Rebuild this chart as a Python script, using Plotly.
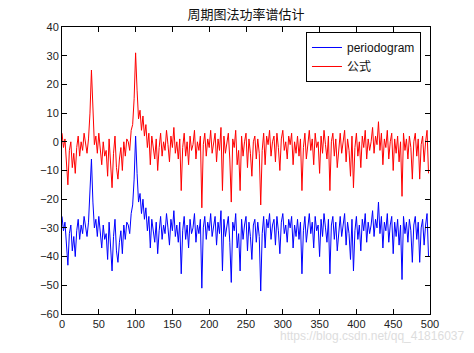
import plotly.graph_objects as go

x_vals = list(range(0, 500, 2))

formula_db = [
    3, -2, 1, -6, -15, -3, 0, -9, -4, -11,
    -2, 2, -5, 0, -3, 3, -1, -4, 1, 10,
    25, 8, -1, 2, -4, 3, -2, -8, 0, -5,
    -3, -12, 1, -7, -16, -4, 2, -9, -13, -6,
    -2, -10, 0, -5, 1, 0, -3, 4, 6, 15,
    31, 18, 8, 11, 4, 9, 2, 6, -2, 3,
    -8, 2, -3, -6, 1, -10, -2, 3, -5, 0,
    -3, 4, -1, -7, 2, -2, 5, -4, 0, -6,
    1, -17, -2, 3, -5, 0, -8, 2, -3, -1,
    4, -6, 0, -3, 2, -23, -1, 3, -5, 1,
    -2, 4, -4, 0, 3, -7, 1, -3, 5, -17,
    2, -4, 0, 3, -6, -21, 1, -2, 4, -8,
    -3, -17, 2, -5, 0, 3, -9, 1, -4, -12,
    0, 2, -6, 1, -4, -22, -3, 3, -8, 2,
    -1, 4, -5, 0, 2, -7, 3, -2, -10, 1,
    4, -3, 0, -6, 2, -1, 3, -8, 0, -4,
    2, -5, 1, -17, -2, 3, -6, 0, 4, -3,
    1, -8, 3, -2, 0, -11, 2, -4, 4, -1,
    -6, 2, -17, 0, 3, -5, 1, -9, -2, 3,
    -4, 0, 4, -7, 1, -3, -12, 2, -16, -2,
    3, -5, 0, -9, 2, -2, 4, -6, 1, -3,
    0, 5, -4, 2, -1, 7, -3, 3, -8, 1,
    -2, 4, -6, 0, 3, -10, 1, -4, 2, -7,
    0, -19, 3, -3, 1, -6, 2, -2, -13, 0,
    3, -5, 1, -13, -1, 2, -7, 0, 4, -11,
]

periodogram_db = [
    -26, -31, -28, -35, -43, -32, -29, -38, -33, -40,
    -31, -27, -34, -29, -32, -26, -30, -33, -28, -19,
    -6, -21, -30, -27, -33, -26, -31, -37, -29, -34,
    -32, -41, -28, -36, -45, -33, -27, -38, -42, -35,
    -31, -39, -29, -34, -28, -29, -32, -25, -22, -13,
    2, -11, -21, -18, -25, -20, -27, -23, -31, -26,
    -37, -27, -32, -35, -28, -39, -31, -26, -34, -29,
    -32, -25, -30, -36, -27, -31, -24, -33, -29, -35,
    -28, -46, -31, -26, -34, -29, -37, -27, -32, -30,
    -25, -35, -29, -32, -27, -51, -30, -26, -34, -28,
    -31, -25, -33, -29, -26, -36, -28, -32, -24, -45,
    -27, -33, -29, -26, -35, -49, -28, -31, -25, -37,
    -32, -45, -27, -34, -29, -26, -38, -28, -33, -41,
    -29, -27, -35, -28, -33, -52, -32, -26, -37, -27,
    -30, -25, -34, -29, -27, -36, -26, -31, -39, -28,
    -25, -32, -29, -35, -27, -30, -26, -37, -29, -33,
    -27, -34, -28, -46, -31, -26, -35, -29, -25, -32,
    -28, -37, -26, -31, -29, -40, -27, -33, -25, -30,
    -35, -27, -46, -29, -26, -34, -28, -38, -31, -26,
    -33, -29, -25, -36, -28, -32, -41, -27, -45, -31,
    -26, -34, -29, -38, -27, -31, -25, -35, -28, -32,
    -29, -24, -33, -27, -30, -21, -32, -26, -37, -28,
    -31, -25, -35, -29, -26, -39, -28, -33, -27, -36,
    -29, -48, -26, -32, -28, -35, -27, -31, -42, -29,
    -26, -34, -28, -42, -30, -27, -36, -29, -25, -40,
]

title_text = "周期图法功率谱估计"
legend_names = ["periodogram", "公式"]
x_ticks = list(range(0, 501, 50))
y_ticks = list(range(-60, 41, 10))
watermark = "https://blog.csdn.net/qq_41816037"

fig = go.Figure()
fig.add_trace(go.Scatter(x=x_vals, y=periodogram_db, mode="lines",
                         name=legend_names[0], line=dict(color="#0000ff", width=1)))
fig.add_trace(go.Scatter(x=x_vals, y=formula_db, mode="lines",
                         name=legend_names[1], line=dict(color="#ff0000", width=1)))

axis_common = dict(showgrid=False, zeroline=False, showline=True, linecolor="#000000",
                   linewidth=1, mirror="ticks", ticks="inside", ticklen=5,
                   tickcolor="#000000", tickfont=dict(family="Arial", size=11, color="#222222"))

fig.update_layout(
    width=474, height=353,
    margin=dict(l=62, r=44, t=27, b=39),
    paper_bgcolor="#ffffff", plot_bgcolor="#ffffff",
    title=dict(text=title_text, x=246/474, xanchor="center", y=1 - 14/353, yanchor="middle",
               font=dict(family="Noto Sans CJK SC", size=13, color="#111111")),
    xaxis=dict(range=[0, 500], tickvals=x_ticks, **axis_common),
    yaxis=dict(range=[-60, 40], tickvals=y_ticks, **axis_common),
    legend=dict(x=0.9755, xanchor="right", y=0.9826, yanchor="top",
                bgcolor="#ffffff", bordercolor="#000000", borderwidth=1,
                font=dict(family="Arial, Noto Sans CJK SC", size=12, color="#111111"),
                tracegroupgap=0, itemwidth=30),
    showlegend=True,
)

fig.add_annotation(text=watermark, xref="paper", yref="paper",
                   x=(466 - 62) / 368, xanchor="right", y=1 - (336 - 27) / 287, yanchor="middle",
                   showarrow=False, font=dict(family="Arial", size=12, color="#dddddd"))

fig.write_html("out.html")
